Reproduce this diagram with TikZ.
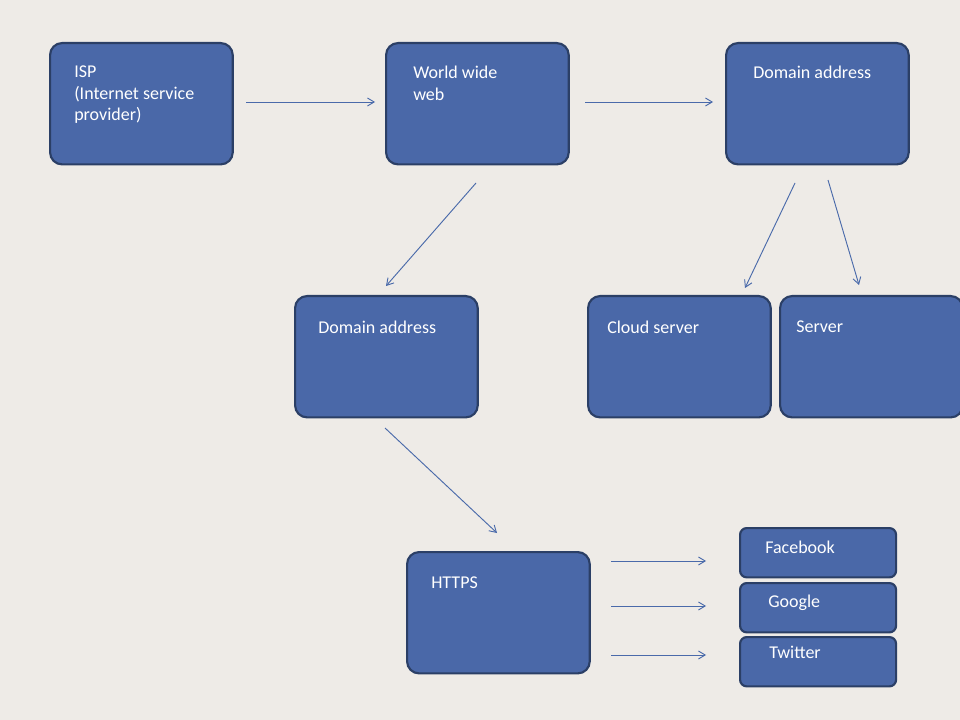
\documentclass[tikz,border=0pt]{standalone}
\usepackage{fontspec}
\setmainfont{Carlito}
\usetikzlibrary{arrows.meta}
\definecolor{bg}{HTML}{EEEBE7}
\definecolor{boxfill}{HTML}{4A68A8}
\definecolor{boxline}{HTML}{2B3F66}
\definecolor{arr}{HTML}{4A6AAA}
\tikzset{
  box/.style={draw=boxline, line width=1.6pt, fill=boxfill, rounded corners=9pt, anchor=north west, inner sep=0pt},
  txt/.style={text=white, font=\fontsize{13.5}{16}\selectfont, anchor=north west, align=left, inner sep=0pt},
  conn/.style={draw=arr, line width=0.7pt, -{Straight Barb[length=5pt,width=6pt]}}
}
\begin{document}
\begin{tikzpicture}[x=0.75pt,y=-0.75pt]
\fill[bg] (0,0) rectangle (960,720);
\useasboundingbox (0,0) rectangle (960,720);
% boxes
\node[box, minimum width=137pt, minimum height=91pt] (isp) at (49,42) {};
\node[box, minimum width=137pt, minimum height=91pt] (www) at (385,42) {};
\node[box, minimum width=137pt, minimum height=91pt] (dom1) at (725,42) {};
\node[box, minimum width=137pt, minimum height=91pt] (dom2) at (294,295) {};
\node[box, minimum width=137pt, minimum height=91pt] (cloud) at (587,295) {};
\node[box, minimum width=137pt, minimum height=91pt] (serv) at (779,295) {};
\node[box, minimum width=137pt, minimum height=91pt] (https) at (406,551) {};
\node[box, minimum width=117pt, minimum height=37pt, rounded corners=5pt] (fb) at (739,527) {};
\node[box, minimum width=117pt, minimum height=37pt, rounded corners=5pt] (gg) at (739,582) {};
\node[box, minimum width=117pt, minimum height=37pt, rounded corners=5pt] (tw) at (739,636) {};
% texts
\node[txt] (tisp) at (74,66) {ISP\\(Internet service\\provider)};
\node[txt] (twww) at (413,66) {World wide\\web};
\node[txt] (tdom1) at (753,66) {Domain address};
\node[txt] (tdom2) at (318,321) {Domain address};
\node[txt] (tcloud) at (607,321) {Cloud server};
\node[txt] (tserv) at (796,321) {Server};
\node[txt] (thttps) at (431,577) {HTTPS};
\node[txt] (tfb) at (765,541) {Facebook};
\node[txt] (tgg) at (768,595) {Google};
\node[txt] (ttw) at (769,646) {Twitter};
% connector endpoints
\coordinate (a1) at (246,102); \coordinate (a2) at (375,102);
\coordinate (b1) at (585,102); \coordinate (b2) at (713,102);
\coordinate (c1) at (476,183); \coordinate (c2) at (386,286);
\coordinate (d1) at (795,183); \coordinate (d2) at (745,288);
\coordinate (e1) at (828,180); \coordinate (e2) at (859,285);
\coordinate (f1) at (385,428); \coordinate (f2) at (497,533);
\coordinate (g1) at (611,561); \coordinate (g2) at (706,561);
\coordinate (h1) at (611,606); \coordinate (h2) at (706,606);
\coordinate (i1) at (611,655); \coordinate (i2) at (706,655);
\foreach \s/\e in {a1/a2,b1/b2,c1/c2,d1/d2,e1/e2,f1/f2,g1/g2,h1/h2,i1/i2}
  \draw[conn] (\s) -- (\e);
\end{tikzpicture}
\end{document}
